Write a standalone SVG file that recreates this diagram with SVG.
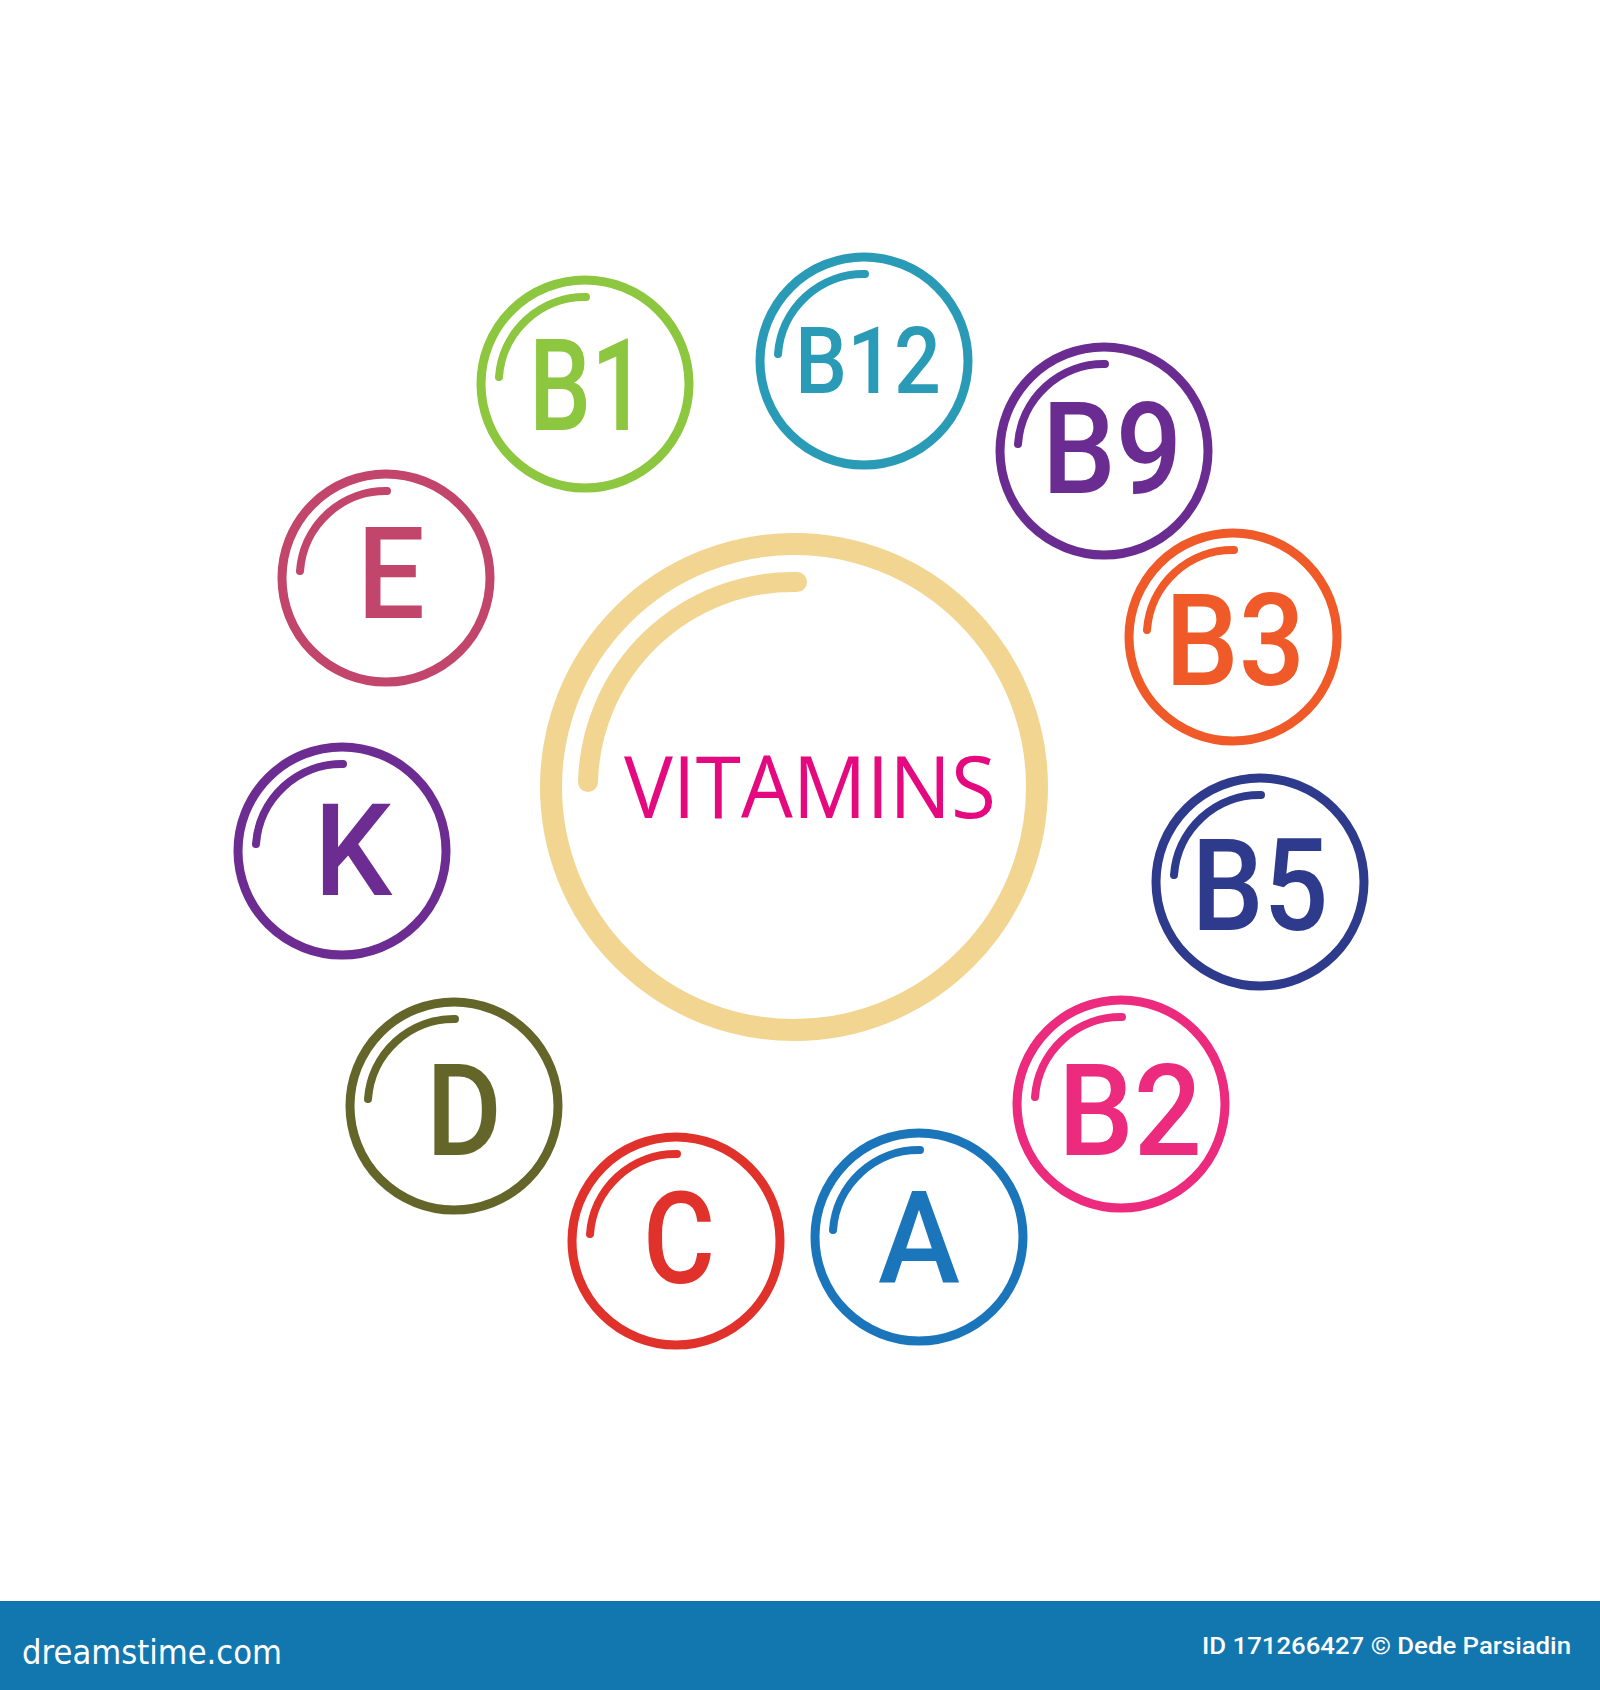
<svg xmlns="http://www.w3.org/2000/svg" width="1600" height="1690" viewBox="0 0 1600 1690">
<style>
.ring{fill:none;stroke-width:9}
.arc{fill:none;stroke-width:8;stroke-linecap:round}
.lbl{font-family:Roboto,"Liberation Sans",sans-serif;font-weight:500;font-size:128px;text-anchor:middle}
</style>
<defs>
<g id="bubble">
<circle class="ring" cx="0" cy="0" r="104"/>
<path class="arc" d="M -86 -7 A 86 86 0 0 1 1 -87"/>
</g>
</defs>
<rect x="0" y="0" width="1600" height="1690" fill="#ffffff"/>
<g id="center">
<circle cx="794" cy="787" r="243" fill="none" stroke="#F3D592" stroke-width="22"/>
<path d="M 588 782 A 205 205 0 0 1 797 582" fill="none" stroke="#F3D592" stroke-width="20" stroke-linecap="round"/>
<text x="810" y="818" font-family="'Open Sans','Noto Sans',sans-serif" font-size="86" fill="#E5097F" text-anchor="middle" textLength="372" lengthAdjust="spacingAndGlyphs">VITAMINS</text>
</g>
<g id="node-B1" stroke="#8DC63F" fill="#8DC63F">
<use href="#bubble" x="585" y="384"/>
<text class="lbl" x="588" y="430" stroke="none" textLength="118" lengthAdjust="spacingAndGlyphs">B1</text>
</g>
<g id="node-B12" stroke="#2A9BB7" fill="#2A9BB7">
<use href="#bubble" x="864" y="361"/>
<text class="lbl" x="868" y="393" stroke="none" style="font-size:93px" textLength="146" lengthAdjust="spacingAndGlyphs">B12</text>
</g>
<g id="node-B9" stroke="#6A2C91" fill="#6A2C91">
<use href="#bubble" x="1104" y="451"/>
<text class="lbl" x="1112" y="493" stroke="none" textLength="140" lengthAdjust="spacingAndGlyphs">B9</text>
</g>
<g id="node-B3" stroke="#EF5A28" fill="#EF5A28">
<use href="#bubble" x="1233" y="637"/>
<text class="lbl" x="1235" y="685" stroke="none" textLength="140" lengthAdjust="spacingAndGlyphs">B3</text>
</g>
<g id="node-B5" stroke="#2E3A8C" fill="#2E3A8C">
<use href="#bubble" x="1260" y="882"/>
<text class="lbl" x="1260" y="930" stroke="none" textLength="137" lengthAdjust="spacingAndGlyphs">B5</text>
</g>
<g id="node-B2" stroke="#EC2A7E" fill="#EC2A7E">
<use href="#bubble" x="1121" y="1104"/>
<text class="lbl" x="1130" y="1155" stroke="none" textLength="144" lengthAdjust="spacingAndGlyphs">B2</text>
</g>
<g id="node-A" stroke="#1B75BB" fill="#1B75BB">
<use href="#bubble" x="919" y="1237"/>
<text class="lbl" x="919" y="1282" stroke="none" textLength="82" lengthAdjust="spacingAndGlyphs">A</text>
</g>
<g id="node-C" stroke="#E0312B" fill="#E0312B">
<use href="#bubble" x="676" y="1241"/>
<text class="lbl" x="679" y="1283" stroke="none" textLength="72" lengthAdjust="spacingAndGlyphs">C</text>
</g>
<g id="node-D" stroke="#636529" fill="#636529">
<use href="#bubble" x="454" y="1106"/>
<text class="lbl" x="464" y="1155" stroke="none" textLength="76" lengthAdjust="spacingAndGlyphs">D</text>
</g>
<g id="node-K" stroke="#6C2C91" fill="#6C2C91">
<use href="#bubble" x="342" y="851"/>
<text class="lbl" x="353" y="895" stroke="none" textLength="78" lengthAdjust="spacingAndGlyphs">K</text>
</g>
<g id="node-E" stroke="#C2456B" fill="#C2456B">
<use href="#bubble" x="386" y="578"/>
<text class="lbl" x="391" y="618" stroke="none" textLength="68" lengthAdjust="spacingAndGlyphs">E</text>
</g>
<g id="connectors"></g>
<g id="footer">
<rect x="0" y="1601" width="1600" height="89" fill="#1276AF"/>
<text x="22" y="1664" font-family="'DejaVu Sans',sans-serif" font-size="34" fill="#ffffff" textLength="260" lengthAdjust="spacingAndGlyphs">dreamstime.com</text>
<text x="1571" y="1654" font-family="Roboto,sans-serif" font-weight="500" font-size="24" fill="#ffffff" text-anchor="end" textLength="369" lengthAdjust="spacingAndGlyphs">ID 171266427 © Dede Parsiadin</text>
</g>
</svg>
